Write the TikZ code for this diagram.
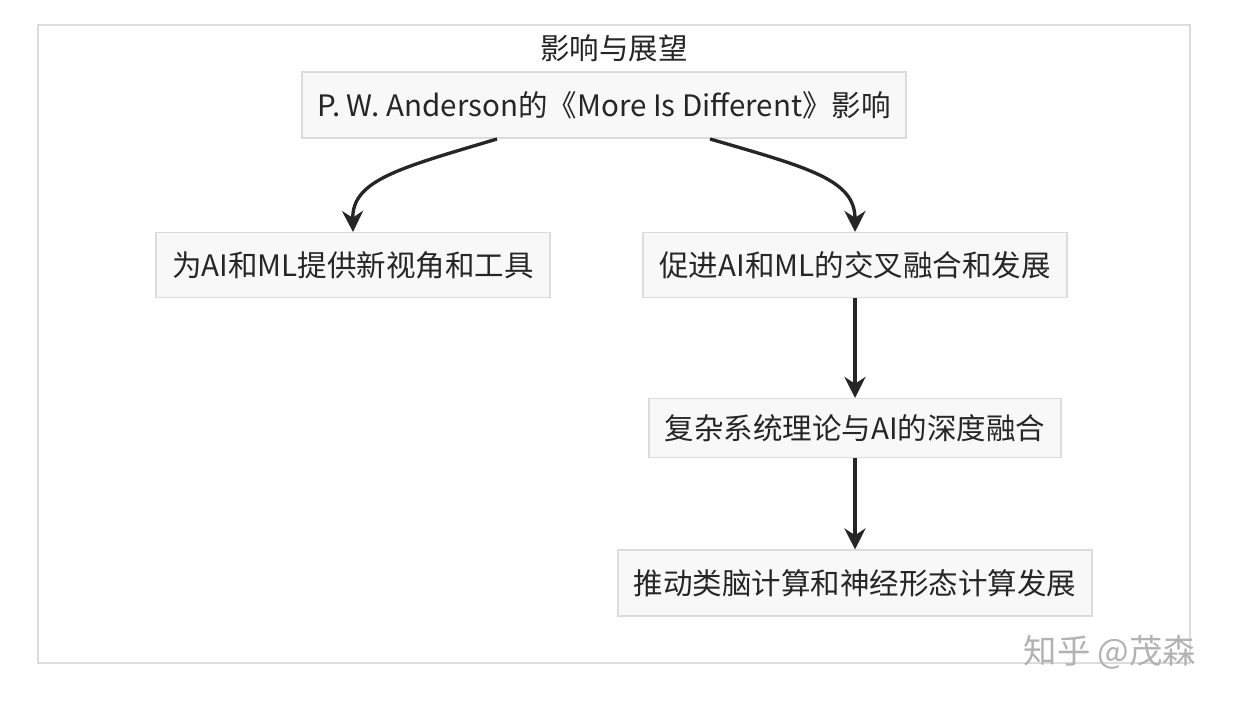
\documentclass[tikz,border=0pt]{standalone}
\usepackage{fontspec}
\setmainfont{Noto Sans CJK SC}
\usetikzlibrary{arrows.meta}
\definecolor{bx}{HTML}{F8F8F8}
\definecolor{bd}{HTML}{DCDCDC}
\begin{document}
\begin{tikzpicture}[x=0.02cm,y=-0.02cm,
 box/.style={draw=bd,fill=bx,line width=0.6pt,inner sep=0pt,font=\fontsize{16.8}{20}\selectfont,text=black!85},
 arr/.style={-{Stealth[length=12pt,width=12pt]},line width=1.9pt,draw=black!85}]
\useasboundingbox (0,0) rectangle (1236,702);
\fill[white] (0,0) rectangle (1236,702);
\node[draw=bd,fill=white,line width=0.6pt,minimum width=1152*0.02cm,minimum height=638*0.02cm,inner sep=0pt] (frame) at (614,344) {};
\node[font=\fontsize{16.8}{20}\selectfont,text=black!85] (title) at (614,48) {影响与展望};
\node[box,minimum width=604*0.02cm,minimum height=66*0.02cm] (a) at (604,105) {P. W. Anderson的《More Is Different》影响};
\node[box,minimum width=394*0.02cm,minimum height=65*0.02cm] (b) at (353,265) {为AI和ML提供新视角和工具};
\node[box,minimum width=424*0.02cm,minimum height=65*0.02cm] (c) at (855,265) {促进AI和ML的交叉融合和发展};
\node[box,minimum width=412*0.02cm,minimum height=59*0.02cm] (d) at (855,428) {复杂系统理论与AI的深度融合};
\node[box,minimum width=474*0.02cm,minimum height=66*0.02cm] (e) at (855,583) {推动类脑计算和神经形态计算发展};
\coordinate (a1) at (497,139);
\coordinate (a2) at (710,139);
\draw[arr] (a1) .. controls (400,168) and (352,180) .. (b.north);
\draw[arr] (a2) .. controls (810,168) and (855,180) .. (c.north);
\draw[arr] (c) -- (d);
\draw[arr] (d) -- (e);
\node[font=\fontsize{19}{22}\selectfont,text=black!30] (wm) at (1110,652) {知乎 @茂森};
\end{tikzpicture}
\end{document}
